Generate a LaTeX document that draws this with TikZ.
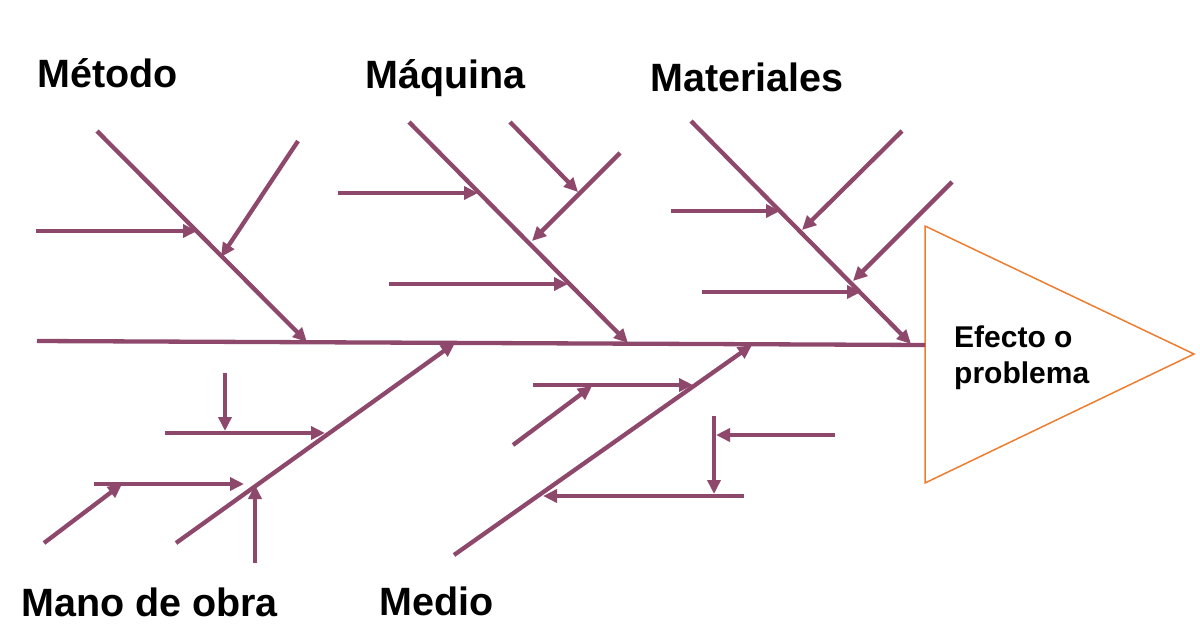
\documentclass[tikz,border=0pt]{standalone}
\usepackage{fontspec}
\setmainfont{Liberation Sans}
\usetikzlibrary{arrows.meta}
\definecolor{bone}{RGB}{142,72,108}
\definecolor{headorange}{RGB}{237,125,49}
\begin{document}
\begin{tikzpicture}[x=1pt,y=-1pt,
  boneline/.style={draw=bone,line width=4.3pt},
  bonearrow/.style={boneline,-{Triangle[length=14pt,width=13pt]}},
  catlabel/.style={inner sep=0pt,anchor=base west,font=\fontsize{39.5}{44}\selectfont\bfseries},
  efflabel/.style={inner sep=0pt,anchor=base west,align=left,font=\fontsize{30}{36}\selectfont\bfseries},
  headtri/.style={draw=headorange,line width=1.5pt,line join=miter}]
\useasboundingbox (0,0) rectangle (1200,630);
% spine
\coordinate (s0) at (37,341);
\coordinate (s1) at (925,345);
% Metodo
\coordinate (m0) at (97,131);   \coordinate (m1) at (307,342);
\coordinate (mh0) at (36,231);  \coordinate (mh1) at (197,231);
\coordinate (md0) at (298,141); \coordinate (md1) at (221,257);
% Maquina
\coordinate (q0) at (409,122);  \coordinate (q1) at (628,343);
\coordinate (qh0) at (338,193); \coordinate (qh1) at (478,193);
\coordinate (qh2) at (389,284); \coordinate (qh3) at (568,284);
\coordinate (qd0) at (620,153); \coordinate (qd1) at (532,241);
\coordinate (qe0) at (510,122); \coordinate (qe1) at (578,192);
% Materiales
\coordinate (t0) at (691,121);  \coordinate (t1) at (911,344);
\coordinate (th0) at (671,211); \coordinate (th1) at (780,211);
\coordinate (th2) at (702,292); \coordinate (th3) at (861,292);
\coordinate (td0) at (902,131); \coordinate (td1) at (802,230);
\coordinate (td2) at (952,182); \coordinate (td3) at (853,281);
% Mano de obra
\coordinate (o0) at (176,543);  \coordinate (o1) at (455,343);
\coordinate (ov0) at (225,373); \coordinate (ov1) at (225,431);
\coordinate (oh0) at (165,433); \coordinate (oh1) at (325,433);
\coordinate (oh2) at (94,484);  \coordinate (oh3) at (244,484);
\coordinate (od0) at (44,543);  \coordinate (od1) at (122,484);
\coordinate (ou0) at (255,563); \coordinate (ou1) at (255,485);
% Medio
\coordinate (e0) at (454,555);  \coordinate (e1) at (752,345);
\coordinate (eh0) at (533,385); \coordinate (eh1) at (693,385);
\coordinate (ed0) at (513,445); \coordinate (ed1) at (592,386);
\coordinate (ev0) at (714,416); \coordinate (ev1) at (714,494);
\coordinate (el0) at (835,435); \coordinate (el1) at (716,435);
\coordinate (el2) at (744,496); \coordinate (el3) at (543,496);
% head
\coordinate (h0) at (925,226);
\coordinate (h1) at (1194,354);
\coordinate (h2) at (925,483);
\draw[headtri] (h0) -- (h1) -- (h2) -- cycle;
\draw[boneline] (s0) -- (s1);
% bones
\foreach \a/\b in {m0/m1,mh0/mh1,md0/md1,
                   q0/q1,qh0/qh1,qh2/qh3,qd0/qd1,qe0/qe1,
                   t0/t1,th0/th1,th2/th3,td0/td1,td2/td3,
                   o0/o1,ov0/ov1,oh0/oh1,oh2/oh3,od0/od1,ou0/ou1,
                   e0/e1,eh0/eh1,ed0/ed1,ev0/ev1,el0/el1,el2/el3}
  \draw[bonearrow] (\a) -- (\b);
% labels
\node[catlabel] (lmet) at (37,87) {Método};
\node[catlabel] (lmaq) at (365,88) {Máquina};
\node[catlabel] (lmat) at (650,91) {Materiales};
\node[catlabel] (lmano) at (21,616) {Mano de obra};
\node[catlabel] (lmed) at (379,615) {Medio};
\node[efflabel] (leff) at (954,383) {Efecto o\\problema};
\end{tikzpicture}
\end{document}
